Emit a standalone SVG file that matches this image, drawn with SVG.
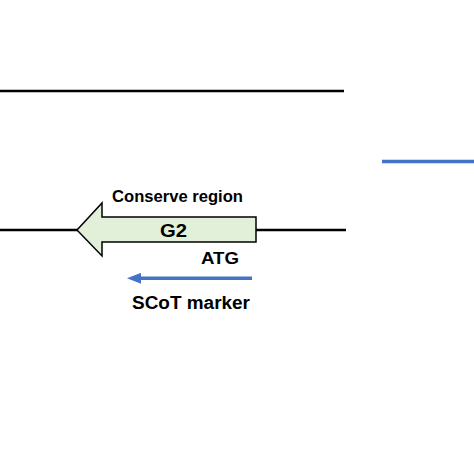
<svg xmlns="http://www.w3.org/2000/svg" width="474" height="474" viewBox="0 0 474 474">
<style>
.t{font-family:"Liberation Sans",Arial,sans-serif;font-weight:bold;fill:#000}
.ln{stroke:#000;stroke-width:2.5;fill:none}
.bl{stroke:#4472c4;stroke-width:3.5;fill:none}
</style>
<defs>
<marker id="ah" markerWidth="14" markerHeight="11" refX="1" refY="5.5" orient="auto" markerUnits="userSpaceOnUse">
<path d="M0,0 L14,5.5 L0,11 z" fill="#4472c4"/>
</marker>
</defs>
<rect width="474" height="474" fill="#fff"/>
<g id="connectors">
<line class="ln" x1="0" y1="91" x2="344" y2="91"/>
<line class="ln" x1="0" y1="230" x2="346" y2="230"/>
<line class="bl" x1="382" y1="161.5" x2="474" y2="161.5"/>
<line class="bl" x1="252" y1="278.3" x2="140" y2="278.3" marker-end="url(#ah)"/>
</g>
<g id="g2">
<path d="M77,230 L102,203 L102,217 L256,217 L256,242 L102,242 L102,256 Z" fill="#e2efd9" stroke="#000" stroke-width="1.5"/>
<text class="t" x="160" y="237.3" font-size="18" textLength="27" lengthAdjust="spacingAndGlyphs">G2</text>
</g>
<g id="labels">
<text class="t" x="112" y="201.7" font-size="16" textLength="131" lengthAdjust="spacingAndGlyphs">Conserve region</text>
<text class="t" x="201" y="264.3" font-size="17" textLength="38" lengthAdjust="spacingAndGlyphs">ATG</text>
<text class="t" x="132" y="309.3" font-size="17.5" textLength="118" lengthAdjust="spacingAndGlyphs">SCoT marker</text>
</g>
</svg>
